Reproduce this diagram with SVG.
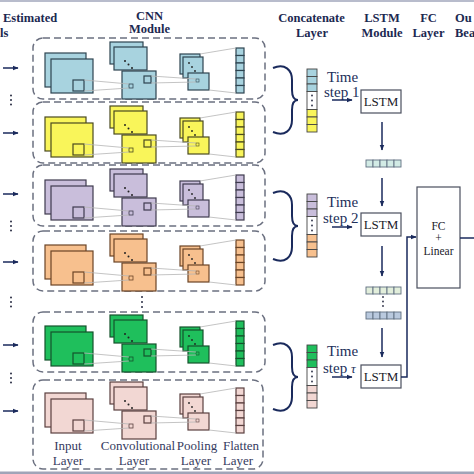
<svg xmlns="http://www.w3.org/2000/svg" xmlns:xlink="http://www.w3.org/1999/xlink" width="474" height="474" viewBox="0 0 474 474">
<style>
.hd{font-family:"Liberation Serif","Times New Roman",serif;font-weight:bold;font-size:12.5px;fill:#1c2951}
.hc{text-anchor:middle}
.lb{font-family:"Liberation Serif","Times New Roman",serif;font-size:13px;fill:#353a5e;text-anchor:middle}
.ts{font-family:"Liberation Serif","Times New Roman",serif;font-size:15px;fill:#22305a}
.bx{fill:#fff;stroke:#4a4f5e;stroke-width:1.2}
.bt{font-family:"Liberation Serif","Times New Roman",serif;font-size:13px;fill:#1a1a2a;text-anchor:middle}
.ft{font-size:11.5px}
.dash{fill:none;stroke:#6b7080;stroke-width:1.5;stroke-dasharray:7 4}
.nv{fill:none;stroke:#1a2a5c;stroke-width:1.5}
.br{fill:none;stroke:#1a2a5c;stroke-width:2}
.gl{stroke:#b5b5b5;stroke-width:0.8;fill:none}
.dt{fill:#2a2e44}
.cell{stroke:#444;stroke-width:0.9}
.vec{stroke:#5f6f80;stroke-width:0.9}
</style>
<defs>
<marker id="ah" viewBox="0 0 10 10" refX="9" refY="5" markerWidth="6" markerHeight="6" orient="auto" markerUnits="userSpaceOnUse"><path d="M0,1 L10,5 L0,9 z" fill="#1a2a5c"/></marker>
<g id="cnn" fill="currentColor" stroke-width="1.2">
<rect x="45" y="16" width="41" height="34"/>
<rect x="51" y="22" width="42" height="34"/>
<rect x="73" y="43" width="11" height="11" fill="none"/>
<rect x="110" y="5" width="33" height="22"/>
<rect x="114" y="10" width="33" height="23"/>
<circle cx="125" cy="24" r="1" fill="#222" stroke="none"/>
<circle cx="128.5" cy="27.5" r="1" fill="#222" stroke="none"/>
<circle cx="132" cy="31" r="1" fill="#222" stroke="none"/>
<rect x="122" y="34" width="34" height="28"/>
<rect x="144" y="39" width="7" height="7" fill="none"/>
<rect x="129" y="47" width="4" height="4" fill="none" stroke-width="0.8"/>
<rect x="180" y="17" width="20" height="20"/>
<rect x="183" y="20" width="20" height="21"/>
<circle cx="189" cy="26" r="0.9" fill="#222" stroke="none"/>
<circle cx="192" cy="30" r="0.9" fill="#222" stroke="none"/>
<circle cx="195" cy="34" r="0.9" fill="#222" stroke="none"/>
<rect x="188" y="36" width="21" height="17"/>
<rect x="196" y="42" width="3" height="3" fill="none" stroke-width="0.6"/>
<rect x="236" y="11" width="8" height="7.5"/>
<rect x="236" y="18.5" width="8" height="7.5"/>
<rect x="236" y="26" width="8" height="7.5"/>
<rect x="236" y="33.5" width="8" height="7.5"/>
<rect x="236" y="41" width="8" height="7.5"/>
<rect x="236" y="48.5" width="8" height="7.5"/>
<path class="gl" d="M84,43 L129,47 M84,54 L129,51 M151,39 L196,42 M151,46 L196,45 M200,17 L236,11 M209,53 L236,56"/>
</g>
</defs>

<rect x="0" y="0" width="474" height="2" fill="#b8bccc"/>
<rect x="0" y="471.5" width="474" height="2.5" fill="#a0a4b8"/>

<g id="headers">
<text class="hd" x="3" y="22">Estimated</text>
<text class="hd" x="0" y="36.5">ls</text>
<text class="hd hc" x="149.5" y="20">CNN</text>
<text class="hd hc" x="149.5" y="32.5">Module</text>
<text class="hd hc" x="311.5" y="22">Concatenate</text>
<text class="hd hc" x="312" y="36.5">Layer</text>
<text class="hd hc" x="382" y="22">LSTM</text>
<text class="hd hc" x="382" y="36.5">Module</text>
<text class="hd hc" x="428.5" y="22">FC</text>
<text class="hd hc" x="428.5" y="36.5">Layer</text>
<text class="hd" x="455" y="22">Ou</text>
<text class="hd" x="455" y="36.5">Bea</text>
</g>

<g id="block1"><rect class="dash" x="33" y="38" width="232" height="61" rx="10"/><use xlink:href="#cnn" href="#cnn" y="37" color="#a8d3df" stroke="#2e4450"/></g>
<g id="block2"><rect class="dash" x="33" y="102" width="232" height="61" rx="10"/><use xlink:href="#cnn" href="#cnn" y="101" color="#f9f55a" stroke="#4a4a20"/></g>
<g id="block3"><rect class="dash" x="33" y="165" width="232" height="61" rx="10"/><use xlink:href="#cnn" href="#cnn" y="164" color="#c9bedb" stroke="#3e3a4e"/></g>
<g id="block4"><rect class="dash" x="33" y="231" width="232" height="60" rx="10"/><use xlink:href="#cnn" href="#cnn" y="229" color="#f7c08e" stroke="#6b4426"/></g>
<g id="block5"><rect class="dash" x="33" y="312" width="232" height="60" rx="10"/><use xlink:href="#cnn" href="#cnn" y="310" color="#1fbf5c" stroke="#14532c"/></g>
<g id="block6"><rect class="dash" x="33" y="380" width="230" height="89" rx="10"/><use xlink:href="#cnn" href="#cnn" y="377" color="#f2d7d3" stroke="#5a4040"/>
<text class="lb" x="68" y="450">Input</text><text class="lb" x="68" y="465">Layer</text>
<text class="lb" x="138" y="450">Convolutional</text><text class="lb" x="134" y="465">Layer</text>
<text class="lb" x="197" y="450">Pooling</text><text class="lb" x="196" y="465">Layer</text>
<text class="lb" x="241" y="450">Flatten</text><text class="lb" x="238" y="465">Layer</text>
</g>

<g id="ellipses" class="dt">
<circle cx="11" cy="95.5" r="1"/><circle cx="11" cy="100" r="1"/><circle cx="11" cy="104.5" r="1"/>
<circle cx="11" cy="221.5" r="1"/><circle cx="11" cy="226" r="1"/><circle cx="11" cy="230.5" r="1"/>
<circle cx="11" cy="297.5" r="1"/><circle cx="11" cy="302" r="1"/><circle cx="11" cy="306.5" r="1"/>
<circle cx="11" cy="373.5" r="1"/><circle cx="11" cy="378" r="1"/><circle cx="11" cy="382.5" r="1"/>
<circle cx="142" cy="297" r="1"/><circle cx="142" cy="302" r="1"/><circle cx="142" cy="307" r="1"/>
<circle cx="383" cy="297" r="0.9"/><circle cx="383" cy="301.5" r="0.9"/><circle cx="383" cy="306" r="0.9"/>
</g>

<g id="concat1">
<rect class="cell" x="307" y="69" width="10" height="7.5" fill="#a8d3df"/>
<rect class="cell" x="307" y="76.5" width="10" height="7.5" fill="#a8d3df"/>
<rect class="cell" x="307" y="84" width="10" height="7.5" fill="#a8d3df"/>
<rect class="cell" x="307" y="91.5" width="10" height="18" fill="#fff"/>
<rect class="cell" x="307" y="109.5" width="10" height="7.5" fill="#f9f55a"/>
<rect class="cell" x="307" y="117" width="10" height="7.5" fill="#f9f55a"/>
<rect class="cell" x="307" y="124.5" width="10" height="7.5" fill="#f9f55a"/>
<circle class="dt" cx="312" cy="95.5" r="0.9"/><circle class="dt" cx="312" cy="100.5" r="0.9"/><circle class="dt" cx="312" cy="105.5" r="0.9"/>
</g>
<g id="concat2">
<rect class="cell" x="307" y="194" width="10" height="7.5" fill="#c9bedb"/>
<rect class="cell" x="307" y="201.5" width="10" height="7.5" fill="#c9bedb"/>
<rect class="cell" x="307" y="209" width="10" height="7.5" fill="#c9bedb"/>
<rect class="cell" x="307" y="216.5" width="10" height="18" fill="#fff"/>
<rect class="cell" x="307" y="234.5" width="10" height="7.5" fill="#f7c08e"/>
<rect class="cell" x="307" y="242" width="10" height="7.5" fill="#f7c08e"/>
<rect class="cell" x="307" y="249.5" width="10" height="7.5" fill="#f7c08e"/>
<circle class="dt" cx="312" cy="220.5" r="0.9"/><circle class="dt" cx="312" cy="225.5" r="0.9"/><circle class="dt" cx="312" cy="230.5" r="0.9"/>
</g>
<g id="concat3">
<rect class="cell" x="307" y="345" width="10" height="7.5" fill="#1fbf5c"/>
<rect class="cell" x="307" y="352.5" width="10" height="7.5" fill="#1fbf5c"/>
<rect class="cell" x="307" y="360" width="10" height="7.5" fill="#1fbf5c"/>
<rect class="cell" x="307" y="367.5" width="10" height="18" fill="#fff"/>
<rect class="cell" x="307" y="385.5" width="10" height="7.5" fill="#f2d7d3"/>
<rect class="cell" x="307" y="393" width="10" height="7.5" fill="#f2d7d3"/>
<rect class="cell" x="307" y="400.5" width="10" height="7.5" fill="#f2d7d3"/>
<circle class="dt" cx="312" cy="371.5" r="0.9"/><circle class="dt" cx="312" cy="376.5" r="0.9"/><circle class="dt" cx="312" cy="381.5" r="0.9"/>
</g>

<g id="lstm1"><rect class="bx" x="361" y="90" width="40" height="23"/><text class="bt" x="381" y="106">LSTM</text></g>
<g id="lstm2"><rect class="bx" x="361" y="213" width="40" height="23"/><text class="bt" x="381" y="229">LSTM</text></g>
<g id="lstm3"><rect class="bx" x="361" y="365" width="40" height="23"/><text class="bt" x="381" y="381">LSTM</text></g>
<g id="fc"><rect class="bx" x="417" y="187" width="43" height="101"/>
<text class="bt ft" x="438.5" y="229.5">FC</text><text class="bt ft" x="438.5" y="242">+</text><text class="bt ft" x="438.5" y="254.5">Linear</text></g>

<g id="hidden1"><rect class="vec" x="366" y="160" width="7" height="7" fill="#d2ebe5"/><rect class="vec" x="373" y="160" width="7" height="7" fill="#d2ebe5"/><rect class="vec" x="380" y="160" width="7" height="7" fill="#d2ebe5"/><rect class="vec" x="387" y="160" width="7" height="7" fill="#d2ebe5"/><rect class="vec" x="394" y="160" width="7" height="7" fill="#d2ebe5"/></g>
<g id="hidden2"><rect class="vec" x="366" y="287" width="7" height="7" fill="#e2eedb"/><rect class="vec" x="373" y="287" width="7" height="7" fill="#e2eedb"/><rect class="vec" x="380" y="287" width="7" height="7" fill="#e2eedb"/><rect class="vec" x="387" y="287" width="7" height="7" fill="#e2eedb"/><rect class="vec" x="394" y="287" width="7" height="7" fill="#e2eedb"/></g>
<g id="hidden3"><rect class="vec" x="366" y="312" width="7" height="7" fill="#b9c9de"/><rect class="vec" x="373" y="312" width="7" height="7" fill="#b9c9de"/><rect class="vec" x="380" y="312" width="7" height="7" fill="#b9c9de"/><rect class="vec" x="387" y="312" width="7" height="7" fill="#b9c9de"/><rect class="vec" x="394" y="312" width="7" height="7" fill="#b9c9de"/></g>

<g id="timelabels">
<text class="ts" x="327" y="82">Time</text><text class="ts" x="324" y="97">step 1</text>
<text class="ts" x="327" y="207">Time</text><text class="ts" x="323" y="223">step 2</text>
<text class="ts" x="327" y="356">Time</text><text class="ts" x="323" y="373">step <tspan font-style="italic" font-size="13">τ</tspan></text>
</g>

<g id="connectors">
<line class="nv" x1="3" y1="68" x2="18" y2="68" marker-end="url(#ah)"/>
<line class="nv" x1="3" y1="133" x2="18" y2="133" marker-end="url(#ah)"/>
<line class="nv" x1="3" y1="194" x2="18" y2="194" marker-end="url(#ah)"/>
<line class="nv" x1="3" y1="262" x2="18" y2="262" marker-end="url(#ah)"/>
<line class="nv" x1="3" y1="345" x2="18" y2="345" marker-end="url(#ah)"/>
<line class="nv" x1="3" y1="411" x2="18" y2="411" marker-end="url(#ah)"/>
<path class="br" d="M273,68 C285,63 292,70 292,80 L292,90 C292,96 294,100 298,100 C294,100 292,104 292,110 L292,120 C292,130 285,137 273,132"/>
<path class="br" d="M273,193 C285,188 292,195 292,205 L292,216 C292,222 294,226 298,226 C294,226 292,230 292,236 L292,247 C292,257 285,264 273,259"/>
<path class="br" d="M273,345 C285,340 292,347 292,357 L292,367 C292,373 294,377 298,377 C294,377 292,381 292,387 L292,397 C292,407 285,414 273,409"/>
<line class="nv" x1="332" y1="100" x2="352" y2="100" marker-end="url(#ah)"/>
<line class="nv" x1="332" y1="227" x2="352" y2="227" marker-end="url(#ah)"/>
<line class="nv" x1="332" y1="377" x2="352" y2="377" marker-end="url(#ah)"/>
<line class="nv" x1="382" y1="122" x2="382" y2="150" marker-end="url(#ah)"/>
<line class="nv" x1="382" y1="178" x2="382" y2="206" marker-end="url(#ah)"/>
<line class="nv" x1="382" y1="246" x2="382" y2="276" marker-end="url(#ah)"/>
<line class="nv" x1="382" y1="328" x2="382" y2="357" marker-end="url(#ah)"/>
<path class="nv" d="M401,377 H407 V237 H416" marker-end="url(#ah)"/>
<line class="nv" x1="460" y1="238" x2="474" y2="238"/>
</g>
</svg>
